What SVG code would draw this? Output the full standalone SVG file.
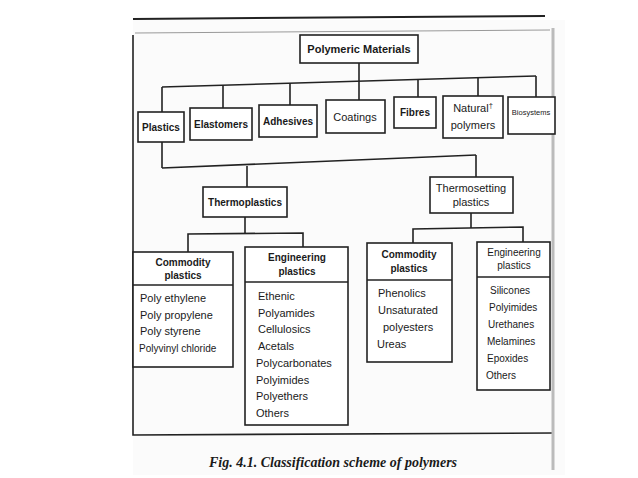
<svg xmlns="http://www.w3.org/2000/svg" width="638" height="478" viewBox="0 0 638 478">
<style>
.b{fill:#fff;stroke:#222;stroke-width:1.6}
.l{stroke:#222;stroke-width:1.6;fill:none}
text{font-family:"Liberation Sans",Arial,sans-serif;font-size:11px;fill:#1a1a1a}
.h{font-weight:bold;text-anchor:middle}
.c{text-anchor:middle}
.s{font-size:10px}
.t{font-size:7.5px}
</style>
<rect width="638" height="478" fill="#fff"/>
<rect x="133" y="20" width="432" height="455" fill="#fbfbfb"/>
<g id="frame" class="l">
<line x1="133" y1="19" x2="545" y2="16" stroke-width="2"/>
<polyline points="133,35 133,435 553,433"/>
<line x1="135" y1="33" x2="550" y2="30" stroke="#999" stroke-width="1"/>
<line x1="553" y1="28" x2="553" y2="470" stroke="#bbb" stroke-width="3"/>
</g>
<g id="connectors" class="l">
<line x1="359" y1="63" x2="359" y2="80"/>
<line x1="162" y1="87" x2="536" y2="76"/>
<line x1="162" y1="87" x2="162" y2="112"/>
<line x1="223" y1="85" x2="223" y2="108"/>
<line x1="290" y1="83" x2="290" y2="105"/>
<line x1="359" y1="80" x2="359" y2="100"/>
<line x1="418" y1="79" x2="418" y2="97"/>
<line x1="478" y1="77" x2="478" y2="96"/>
<line x1="536" y1="76" x2="536" y2="97"/>
<line x1="162" y1="142" x2="162" y2="168"/>
<line x1="162" y1="168" x2="476" y2="155"/>
<line x1="476" y1="155" x2="476" y2="177"/>
<line x1="247" y1="166" x2="247" y2="187"/>
<line x1="245" y1="217" x2="245" y2="233"/>
<polyline points="188,252 188,234 303,233 303,247"/>
<line x1="471" y1="213" x2="471" y2="228"/>
<polyline points="413,243 413,229 523,227 523,242"/>
</g>
<g id="polymeric"><rect class="b" x="300" y="35" width="118" height="28"/><text class="h" x="359" y="53">Polymeric Materials</text></g>
<g id="plastics"><rect class="b" x="138" y="112" width="46" height="30"/><text class="h s" x="161" y="131">Plastics</text></g>
<g id="elastomers"><rect class="b" x="190" y="108" width="62" height="32"/><text class="h s" x="221" y="128">Elastomers</text></g>
<g id="adhesives"><rect class="b" x="259" y="105" width="58" height="32"/><text class="h s" x="288" y="125">Adhesives</text></g>
<g id="coatings"><rect class="b" x="326" y="100" width="59" height="33"/><text class="c" x="355" y="121">Coatings</text></g>
<g id="fibres"><rect class="b" x="394" y="97" width="42" height="31"/><text class="h s" x="415" y="116">Fibres</text></g>
<g id="natural"><rect class="b" x="443" y="96" width="60" height="42"/><text class="c" x="473" y="112">Natural<tspan dy="-4" class="t">†</tspan></text><text class="c" x="473" y="129">polymers</text></g>
<g id="biosystems"><rect class="b" x="508" y="97" width="47" height="37"/><text class="c t" x="531" y="115">Biosystems</text></g>
<g id="thermoplastics"><rect class="b" x="203" y="187" width="84" height="30"/><text class="h s" x="245" y="206">Thermoplastics</text></g>
<g id="thermosetting"><rect class="b" x="430" y="177" width="83" height="36"/><text class="c" x="471" y="192">Thermosetting</text><text class="c" x="471" y="206">plastics</text></g>
<g id="tp-commodity"><rect class="b" x="133" y="252" width="100" height="115"/><line class="l" x1="133" y1="285" x2="233" y2="285"/>
<text class="h s" x="183" y="266">Commodity</text><text class="h s" x="183" y="279">plastics</text>
<text x="140" y="302">Poly ethylene</text><text x="140" y="319">Poly propylene</text><text x="140" y="335">Poly styrene</text><text class="s" x="139" y="352">Polyvinyl chloride</text></g>
<g id="tp-engineering"><rect class="b" x="245" y="247" width="103" height="178"/><line class="l" x1="245" y1="282" x2="348" y2="282"/>
<text class="h s" x="297" y="261">Engineering</text><text class="h s" x="297" y="275">plastics</text>
<text x="258" y="300">Ethenic</text><text x="258" y="317">Polyamides</text><text x="258" y="333">Cellulosics</text><text x="258" y="350">Acetals</text><text x="256" y="367">Polycarbonates</text><text x="256" y="384">Polyimides</text><text x="256" y="400">Polyethers</text><text x="256" y="417">Others</text></g>
<g id="ts-commodity"><rect class="b" x="367" y="243" width="85" height="119"/><line class="l" x1="367" y1="280" x2="452" y2="280"/>
<text class="h s" x="409" y="258">Commodity</text><text class="h s" x="409" y="272">plastics</text>
<text x="378" y="297">Phenolics</text><text x="378" y="314">Unsaturated</text><text x="383" y="331">polyesters</text><text x="377" y="348">Ureas</text></g>
<g id="ts-engineering"><rect class="b" x="477" y="242" width="73" height="148"/><line class="l" x1="477" y1="277" x2="550" y2="277"/>
<text class="c s" x="514" y="256">Engineering</text><text class="c s" x="514" y="269">plastics</text>
<text class="s" x="490" y="294">Silicones</text><text class="s" x="489" y="311">Polyimides</text><text class="s" x="488" y="328">Urethanes</text><text class="s" x="487" y="345">Melamines</text><text class="s" x="487" y="362">Epoxides</text><text class="s" x="486" y="379">Others</text></g>
<text x="333" y="467" text-anchor="middle" style="font-family:'Liberation Serif',serif;font-style:italic;font-weight:bold;font-size:14px">Fig. 4.1. Classification scheme of polymers</text>
</svg>
